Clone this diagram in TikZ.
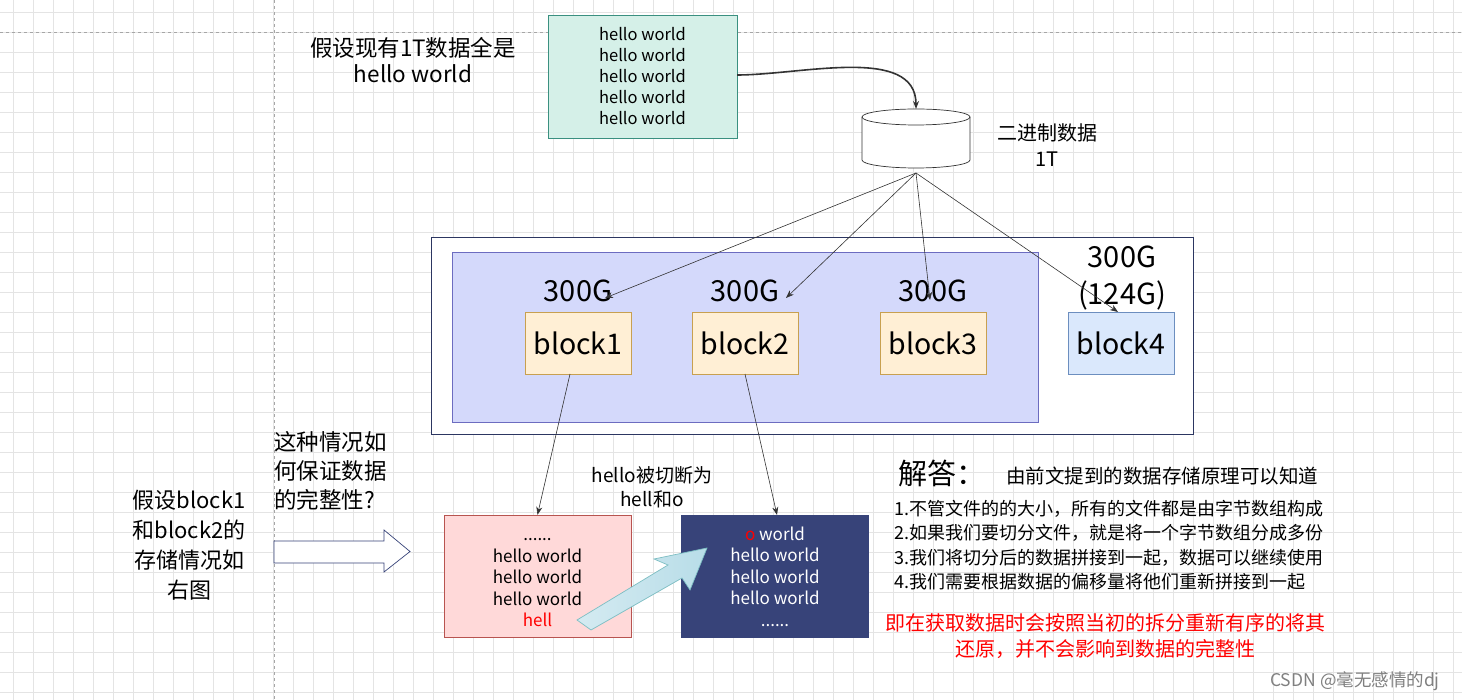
\documentclass[tikz,border=0pt]{standalone}
\usepackage{fontspec}
\setmainfont{Noto Sans CJK SC}
\usetikzlibrary{shapes.geometric,arrows.meta}
\definecolor{gridc}{HTML}{E4E4E4}
\definecolor{tealf}{HTML}{D5F0E8}
\definecolor{teald}{HTML}{3A9080}
\definecolor{lav}{HTML}{D4D9FB}
\definecolor{lavd}{HTML}{6C6CC0}
\definecolor{orf}{HTML}{FFEFD5}
\definecolor{ord}{HTML}{C8A050}
\definecolor{blf}{HTML}{DAE8FC}
\definecolor{bld}{HTML}{6C8EBF}
\definecolor{pkf}{HTML}{FFD9D9}
\definecolor{pkd}{HTML}{B85450}
\definecolor{navy}{HTML}{374379}
\definecolor{ltb}{HTML}{B8DDE8}
\tikzset{
 x=1pt,y=-1pt,
 fs/.style 2 args={font=\fontsize{#1}{#2}\selectfont},
 blk/.style={draw=ord,fill=orf,minimum width=106pt,minimum height=62pt,fs={28.5}{30},inner sep=0},
 g/.style={fs={29}{37}},
 ln/.style={-{Stealth[length=8pt,width=6pt]},black!80,line width=0.6pt},
}
\begin{document}
\begin{tikzpicture}
\useasboundingbox (0,0) rectangle (1462,700);
\fill[white] (0,0) rectangle (1462,700);
\foreach \i in {0,20,...,1460} \draw[gridc,line width=0.8pt] (\i+13,0) -- (\i+13,700);
\foreach \j in {0,20,...,700} \draw[gridc,line width=0.8pt] (0,\j+12) -- (1462,\j+12);
\draw[gray!70,dashed,line width=0.8pt] (0,32) -- (1462,32);
\draw[gray!70,dashed,line width=0.8pt] (274,0) -- (274,700);
\node[fs={22.5}{26},align=center] (t1) at (413,60) {假设现有1T数据全是\\hello world};
\node[draw=teald,fill=tealf,minimum width=189pt,minimum height=123pt,fs={16.5}{21},align=center,inner sep=0] (src) at (642.5,76.5)
 {hello world\\hello world\\hello world\\hello world\\hello world};
% cylinder
\draw[black!80,fill=white,line width=0.7pt] (862,117) -- (862,160) arc[start angle=180,end angle=360,x radius=54pt,y radius=8pt] -- (970,117);
\draw[black!80,fill=white,line width=0.7pt] (916,117) ellipse[x radius=54pt,y radius=8pt];
\coordinate (cyltop) at (916,109);
\coordinate (c0) at (916,173);
\node[fs={20}{26},align=center] (cl) at (1047,145) {二进制数据\\1T};
\draw[ln,line width=1.6pt] (737,75) to[out=0,in=90,looseness=0.9] (cyltop);
\node[draw=navy!80!black,fill=white,minimum width=762pt,minimum height=197pt,inner sep=0] (outer) at (812,335.5) {};
\node[draw=lavd,fill=lav,minimum width=586pt,minimum height=170pt,inner sep=0] (inner) at (745,337) {};
\node[g] (l1) at (578,291) {300G};
\node[g] (l2) at (745,291) {300G};
\node[g] (l3) at (933,291) {300G};
\node[g,align=center] (l4) at (1122,278) {300G\\(124G)};
\node[blk] (b1) at (578,343) {block1};
\node[blk] (b2) at (745,343) {block2};
\node[blk] (b3) at (933,343) {block3};
\node[blk,draw=bld,fill=blf] (b4) at (1121,343) {block4};
\coordinate (e1) at (605,298);
\coordinate (e2) at (786,298);
\coordinate (e3) at (930,300);
\coordinate (e4) at (1118,312);
\foreach \e in {e1,e2,e3,e4} \draw[ln] (c0) -- (\e);
\node[draw=pkd,fill=pkf,minimum width=187pt,minimum height=122pt,inner sep=0] (pk) at (537.5,576) {};
\node[fs={17}{21.5},align=center,inner sep=0] (pkt) at (537.5,583)
 {......\\hello world\\hello world\\hello world\\\textcolor{red}{hell}};
\node[fill=navy,minimum width=188pt,minimum height=123pt,fs={17}{21.5},align=center,inner sep=0,text=white] (nv) at (775,576.5)
 {\textcolor{red}{o} world\\hello world\\hello world\\hello world\\......};
\coordinate (s1) at (570,374);
\coordinate (s2) at (745,374);
\coordinate (n2) at (777,515);
\draw[ln] (s1) -- (pk.north);
\draw[ln] (s2) -- (n2);
\node[fs={19}{24},align=center] (cut) at (652,487) {hello被切断为\\hell和o};
\shade[left color=ltb!60,right color=ltb,draw=ltb!50!teal!80,line width=0.7pt]
 (577,620) -- (591,630) -- (682,578) -- (690,590) -- (707,548) -- (654,559) -- (668,565) -- cycle;
\node[fs={22}{30},align=center] (q1) at (189,545) {假设block1\\和block2的\\存储情况如\\右图};
\node[fs={22.5}{29},align=left,anchor=west,inner sep=0] (q2) at (274,471) {这种情况如\\何保证数据\\的完整性?};
\draw[navy,fill=white,line width=0.7pt] (274,541) -- (384,541) -- (384,530) -- (410,551.5) -- (384,572) -- (384,563) -- (274,563) -- cycle;
\node[fs={29}{30}] (ans) at (942,473) {解答：};
\node[fs={19.5}{24}] (ans2) at (1162,476) {由前文提到的数据存储原理可以知道};
\node[fs={18}{24.5},align=left,anchor=west,inner sep=0] (lst) at (894,545)
 {1.不管文件的的大小，所有的文件都是由字节数组构成\\2.如果我们要切分文件，就是将一个字节数组分成多份\\3.我们将切分后的数据拼接到一起，数据可以继续使用\\4.我们需要根据数据的偏移量将他们重新拼接到一起};
\node[fs={20}{26},align=center,text=red] (red) at (1105,636) {即在获取数据时会按照当初的拆分重新有序的将其\\还原，并不会影响到数据的完整性};
\node[fs={17.5}{20},text=gray] (wm) at (1355,681) {CSDN @毫无感情的dj};
\end{tikzpicture}
\end{document}
